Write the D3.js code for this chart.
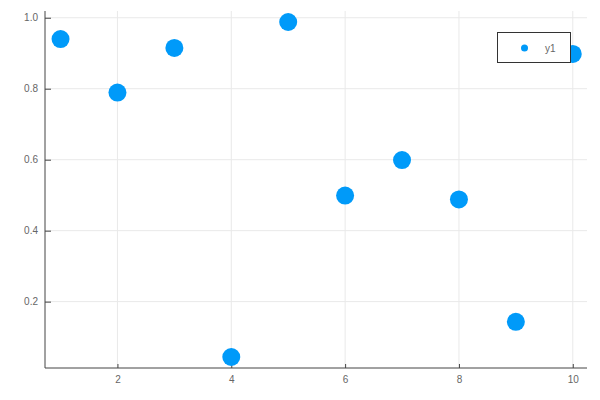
<!DOCTYPE html>
<html>
<head>
<meta charset="utf-8">
<script src="https://cdn.jsdelivr.net/npm/d3@7"></script>
<style>
  body { margin: 0; background: #fff; }
  text { font-family: "Liberation Sans", Arial, sans-serif; }
</style>
</head>
<body>
<div id="playground"><svg></svg></div>
<script>
var xs = [1, 2, 3, 4, 5, 6, 7, 8, 9, 10];
var ys = [0.940, 0.789, 0.915, 0.044, 0.988, 0.499, 0.599, 0.488, 0.143, 0.898];
var xTicks = [2, 4, 6, 8, 10];
var yTicks = [0.2, 0.4, 0.6, 0.8, 1.0];
var seriesName = "y1";

var W = 600, H = 400;
var padL = 45, padR = 587, padT = 11, padB = 368;

var svg = d3.select("#playground").select("svg")
  .attr("width", W)
  .attr("height", H);

var x = d3.scaleLinear().domain([0.727, 10.25]).range([padL, padR]);
var y = d3.scaleLinear().domain([0.013, 1.019]).range([padB, padT]);

// grid
svg.append("g").selectAll("line").data(xTicks).enter().append("line")
  .attr("x1", function(d){ return x(d); }).attr("x2", function(d){ return x(d); })
  .attr("y1", padT).attr("y2", padB)
  .style("stroke", "#e9e9e9").style("stroke-width", 1);
svg.append("g").selectAll("line").data(yTicks).enter().append("line")
  .attr("y1", function(d){ return y(d); }).attr("y2", function(d){ return y(d); })
  .attr("x1", padL).attr("x2", padR)
  .style("stroke", "#e9e9e9").style("stroke-width", 1);

// axes
var xAxis = d3.axisBottom(x).tickValues(xTicks).tickSize(-4).tickPadding(8)
  .tickFormat(d3.format("d"));
var yAxis = d3.axisLeft(y).tickValues(yTicks).tickSize(-6).tickPadding(7)
  .tickFormat(d3.format(".1f"));

var gx = svg.append("g").attr("transform", "translate(0," + padB + ")").call(xAxis);
var gy = svg.append("g").attr("transform", "translate(" + padL + ",0)").call(yAxis);
[gx, gy].forEach(function(g){
  g.select(".domain").style("stroke", "#444").style("stroke-width", 1);
  g.selectAll(".tick line").style("stroke", "#444");
  g.selectAll(".tick text").style("fill", "#666").style("font-size", "10px")
    .style("font-family", "'Liberation Sans', Arial, sans-serif");
});
gx.select(".domain").attr("d", "M" + padL + ",0H" + padR);
gy.select(".domain").attr("d", "M0," + padB + "V" + padT);

// points
svg.append("g").selectAll("circle").data(xs).enter().append("circle")
  .attr("cx", function(d){ return x(d); })
  .attr("cy", function(d, i){ return y(ys[i]); })
  .attr("r", 9)
  .style("fill", "#009af9");

// legend
var lg = svg.append("g");
lg.append("rect").attr("x", 497.5).attr("y", 32.5).attr("width", 73).attr("height", 30)
  .style("fill", "#fff").style("stroke", "#333").style("stroke-width", 1);
lg.append("circle").attr("cx", 524.5).attr("cy", 48).attr("r", 3.5).style("fill", "#009af9");
lg.append("text").attr("x", 545).attr("y", 51.5).text(seriesName)
  .style("font-size", "10px").style("fill", "#666");
</script>
</body>
</html>
